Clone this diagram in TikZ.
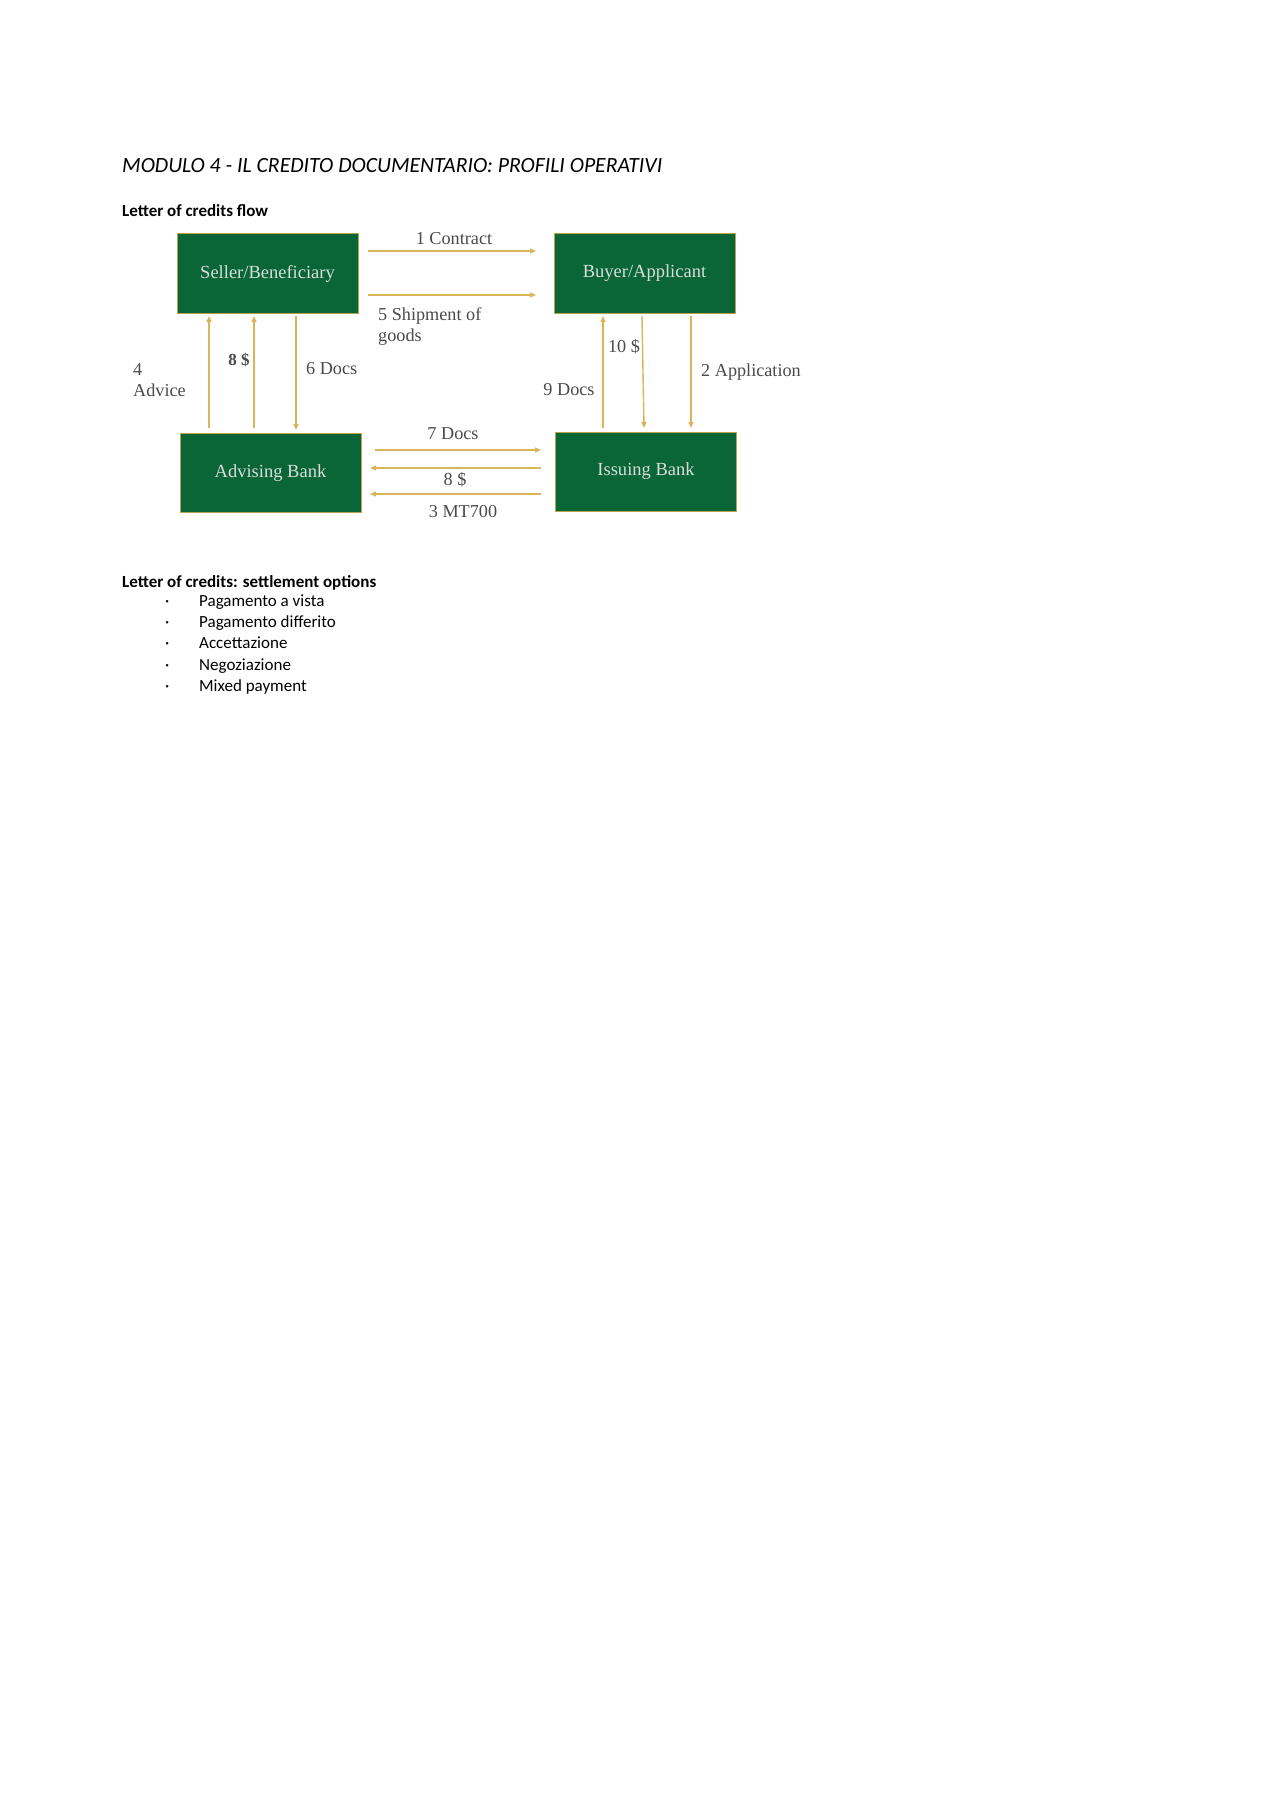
\documentclass[tikz,border=0pt]{standalone}
\usepackage{fontspec}
\setmainfont{Carlito}
\newfontfamily\diagfont{Liberation Serif}
\usetikzlibrary{arrows.meta}
\definecolor{boxgreen}{HTML}{0A6636}
\definecolor{boxedge}{HTML}{B9A24E}
\definecolor{flowgold}{HTML}{D9B55A}
\definecolor{labelgray}{HTML}{4A4A4A}
\definecolor{boxtext}{HTML}{D8DED8}
\tikzset{
  party/.style={draw=boxedge, line width=1pt, fill=boxgreen, minimum width=181pt, minimum height=79pt, inner sep=0pt, text=boxtext, font=\diagfont\fontsize{18.5}{21}\selectfont},
  flow/.style={draw=flowgold, line width=1.4pt, -{Triangle[length=6pt,width=5pt]}},
  lbl/.style={text=labelgray, inner sep=0pt, font=\diagfont\fontsize{18.2}{21}\selectfont},
  doctext/.style={inner sep=0pt, anchor=base west, font=\fontsize{17}{20}\selectfont},
}
\begin{document}
\begin{tikzpicture}[x=1pt,y=-1pt]
\useasboundingbox[fill=white] (0,0) rectangle (1280,1811);
% headings
\node[doctext, font=\itshape\fontsize{21.7}{25}\selectfont] (title) at (122,173) {MODULO 4 - IL CREDITO DOCUMENTARIO: PROFILI OPERATIVI};
\node[doctext, font=\bfseries\fontsize{17}{20}\selectfont] (h1) at (122,217) {Letter of credits flow};
% boxes
\node[party] (seller) at (267.5,273.5) {Seller/Beneficiary};
\node[party] (buyer) at (644.5,273.5) {Buyer/Applicant};
\node[party] (advising) at (270.5,473) {Advising Bank};
\node[party] (issuing) at (646,471.5) {Issuing Bank};
% free ends of flows
\coordinate (c1s) at (368,251); \coordinate (c1e) at (536,251);
\coordinate (c5s) at (368,295); \coordinate (c5e) at (536,295);
\coordinate (a4s) at (209,428); \coordinate (a4e) at (209,316);
\coordinate (a8s) at (254,428); \coordinate (a8e) at (254,316);
\coordinate (a6s) at (296,316); \coordinate (a6e) at (296,430);
\coordinate (a9s) at (603,428); \coordinate (a9e) at (603,316);
\coordinate (a10s) at (642,316); \coordinate (a10e) at (644,428);
\coordinate (a2s) at (691,316); \coordinate (a2e) at (691,428);
\coordinate (a7s) at (375,450); \coordinate (a7e) at (541,450);
\coordinate (b8s) at (541,468); \coordinate (b8e) at (370,468);
\coordinate (a3s) at (541,494); \coordinate (a3e) at (370,494);
\draw[flow] (c1s) -- (c1e);
\draw[flow] (c5s) -- (c5e);
\draw[flow] (a4s) -- (a4e);
\draw[flow] (a8s) -- (a8e);
\draw[flow] (a6s) -- (a6e);
\draw[flow] (a9s) -- (a9e);
\draw[flow] (a10s) -- (a10e);
\draw[flow] (a2s) -- (a2e);
\draw[flow] (a7s) -- (a7e);
\draw[flow] (b8s) -- (b8e);
\draw[flow] (a3s) -- (a3e);
% labels
\node[lbl] (l1) at (454,239) {1 Contract};
\node[lbl, anchor=base west] (l5a) at (378,320) {5 Shipment of};
\node[lbl, anchor=base west] (l5b) at (378,341) {goods};
\node[lbl, anchor=base west] (l4a) at (133,375) {4};
\node[lbl, anchor=base west] (l4b) at (133,396) {Advice};
\node[lbl, font=\diagfont\bfseries\fontsize{17}{19}\selectfont] (l8a) at (239,360) {8 \$};
\node[lbl, anchor=base west] (l6) at (306,374) {6 Docs};
\node[lbl] (l10) at (624,347) {10 \$};
\node[lbl] (l9) at (569,390) {9 Docs};
\node[lbl, anchor=west] (l2) at (701,372) {2 Application};
\node[lbl] (l7) at (453,434) {7 Docs};
\node[lbl] (l8b) at (455,480) {8 \$};
\node[lbl] (l3) at (463,512) {3 MT700};
% settlement options
\node[doctext, font=\bfseries\fontsize{17}{20}\selectfont] (h2) at (122,587) {Letter of credits: settlement options};
\foreach \t [count=\i] in {Pagamento a vista, Pagamento differito, Accettazione, Negoziazione, Mixed payment}{
  \node[doctext] (b\i) at (165,585+21.3*\i) {\textperiodcentered};
  \node[doctext] (t\i) at (199,585+21.3*\i) {\t};
}
\end{tikzpicture}
\end{document}
